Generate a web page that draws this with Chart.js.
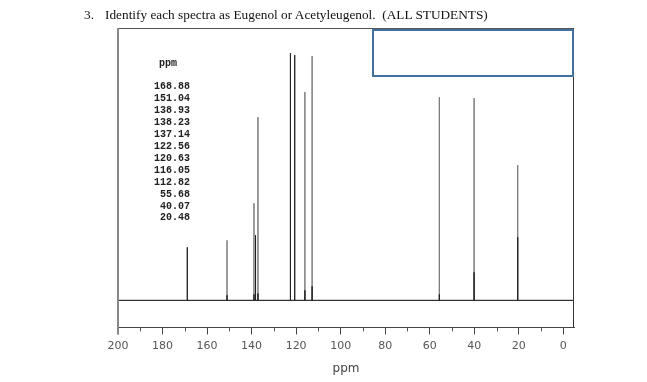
<!DOCTYPE html>
<html>
<head>
<meta charset="utf-8">
<script src="https://cdn.jsdelivr.net/npm/chart.js@4"></script>
<style>
  html, body { margin: 0; padding: 0; background: #fff; }
  #wrap { position: relative; width: 647px; height: 382px; overflow: hidden; }
  #chart { position: absolute; left: 0; top: 0; }
  .title { position: absolute; top: 7px; font-family: "Liberation Serif", serif; font-size: 13.3px; color: #111; white-space: pre; }
  #peakHead { position: absolute; left: 159px; top: 58px; font-family: "Liberation Mono", monospace; font-weight: bold; font-size: 10px; color: #222; }
  #peakList { position: absolute; left: 130px; width: 60px; top: 81px; font-family: "Liberation Mono", monospace; font-weight: bold; font-size: 10px; line-height: 11.95px; color: #222; text-align: right; white-space: pre; }
  #box { position: absolute; left: 372px; top: 29px; width: 198px; height: 44px; border: 2px solid #41719c; background: #fff; }
</style>
</head>
<body>
<div id="wrap">
  <canvas id="chart" width="647" height="382"></canvas>
  <div class="title" style="left:84px">3.</div>
  <div class="title" style="left:105px">Identify each spectra as Eugenol or Acetyleugenol.  (ALL STUDENTS)</div>
  <div id="peakHead">ppm</div>
  <div id="peakList"></div>
  <div id="box"></div>
</div>
<script>
// ================= DATA =================
const peakPpm = [168.88, 151.04, 138.93, 138.23, 137.14, 122.56, 120.63, 116.05, 112.82, 55.68, 40.07, 20.48];

// tall (gray) trace and overlaid dark trace, heights in intensity units
const grayHeight  = [0, 60, 97, 0, 183, 0, 0, 208, 244, 203, 202, 135];
const blackHeight = [53, 5, 6, 65, 7, 247, 245, 10, 14, 6, 28, 63];

const xMax = 200;
const xMin = -4.8;
const tickValues = [200, 180, 160, 140, 120, 100, 80, 60, 40, 20, 0];


// ================= PEAK LIST TEXT =================
document.getElementById("peakList").textContent =
  peakPpm.map(p => p.toFixed(2)).join("\n");


// ================= STICK SPECTRUM =================
function sticks(heights) {
  const pts = [{ x: xMax, y: 0 }];
  peakPpm.forEach((p, i) => {
    if (!heights[i]) return;
    pts.push({ x: p, y: 0 }, { x: p, y: heights[i] }, { x: p, y: 0 });
  });
  pts.push({ x: xMin, y: 0 });
  return pts;
}


// ================= FRAME + MINOR TICKS =================
const framePlugin = {
  id: "frame",
  afterDraw(chart) {
    const { ctx, chartArea: a, scales: { x } } = chart;
    ctx.save();
    ctx.lineWidth = 1;

    ctx.strokeStyle = "#555";
    ctx.beginPath();
    ctx.moveTo(a.left, a.top + 0.5); ctx.lineTo(a.right, a.top + 0.5);
    ctx.stroke();

    ctx.strokeStyle = "#333";
    ctx.beginPath();
    ctx.moveTo(a.right - 0.5, a.top); ctx.lineTo(a.right - 0.5, a.bottom);
    ctx.stroke();

    ctx.strokeStyle = "#888";
    ctx.lineWidth = 2;
    ctx.beginPath();
    ctx.moveTo(a.left, a.top); ctx.lineTo(a.left, a.bottom + 7);
    ctx.stroke();

    // minor ticks every 10 ppm
    ctx.lineWidth = 1;
    ctx.strokeStyle = "#555";
    for (let v = 190; v > 0; v -= 20) {
      const px = Math.round(x.getPixelForValue(v)) + 0.5;
      ctx.beginPath();
      ctx.moveTo(px, a.bottom); ctx.lineTo(px, a.bottom + 4);
      ctx.stroke();
    }
    ctx.restore();
  }
};


// ================= CHART =================
new Chart(document.getElementById("chart"), {
  type: "line",
  data: {
    datasets: [
      {
        data: sticks(blackHeight),
        borderColor: "#222",
        borderWidth: 1,
        pointRadius: 0,
        tension: 0,
        order: 0
      },
      {
        data: sticks(grayHeight),
        borderColor: "#7a7a7a",
        borderWidth: 1,
        pointRadius: 0,
        tension: 0,
        order: 1
      }
    ]
  },
  options: {
    responsive: false,
    animation: false,
    layout: { padding: { left: 118, right: 73, top: 28, bottom: 6 } },
    plugins: { legend: { display: false }, tooltip: { enabled: false } },
    scales: {
      x: {
        type: "linear",
        reverse: true,
        min: xMin,
        max: xMax,
        border: { display: true, color: "#444", width: 1 },
        grid: {
          drawOnChartArea: false,
          tickLength: 7,
          tickColor: "#444"
        },
        afterBuildTicks: scale => {
          scale.ticks = tickValues.map(v => ({ value: v }));
        },
        ticks: {
          autoSkip: false,
          maxRotation: 0,
          padding: 5,
          color: "#555",
          font: { family: "DejaVu Sans", size: 11 },
          callback: v => String(v)
        },
        title: {
          display: true,
          text: "ppm",
          color: "#444",
          font: { family: "DejaVu Sans", size: 12 },
          padding: { top: 4, bottom: 0 }
        }
      },
      y: {
        display: false,
        min: -27,
        max: 272
      }
    }
  },
  plugins: [framePlugin]
});
</script>
</body>
</html>
